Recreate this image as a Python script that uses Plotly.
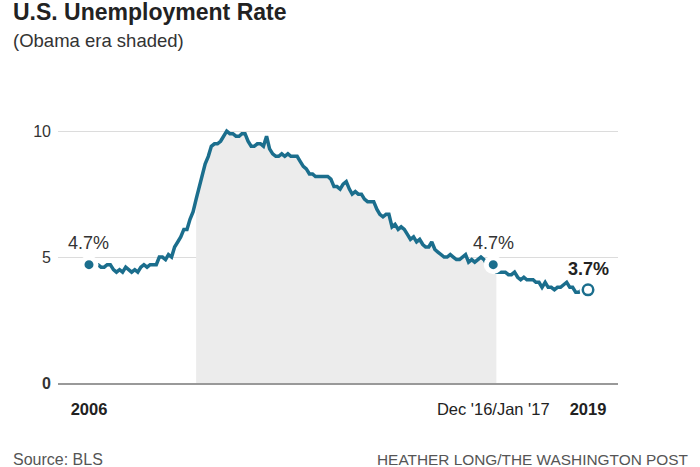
import plotly.graph_objects as go
import pandas as pd

# Monthly U.S. unemployment rate (%), Jan 2006 - Aug 2019 (BLS)
start_month = "2006-01"
rate = [
    4.7, 4.8, 4.7, 4.7, 4.6, 4.6, 4.7, 4.7, 4.5, 4.4, 4.5, 4.4,   # 2006
    4.6, 4.5, 4.4, 4.5, 4.4, 4.6, 4.7, 4.6, 4.7, 4.7, 4.7, 5.0,   # 2007
    5.0, 4.9, 5.1, 5.0, 5.4, 5.6, 5.8, 6.1, 6.1, 6.5, 6.8, 7.3,   # 2008
    7.8, 8.3, 8.7, 9.0, 9.4, 9.5, 9.5, 9.6, 9.8, 10.0, 9.9, 9.9,  # 2009
    9.8, 9.8, 9.9, 9.9, 9.6, 9.4, 9.4, 9.5, 9.5, 9.4, 9.8, 9.3,   # 2010
    9.1, 9.0, 9.0, 9.1, 9.0, 9.1, 9.0, 9.0, 9.0, 8.8, 8.6, 8.5,   # 2011
    8.3, 8.3, 8.2, 8.2, 8.2, 8.2, 8.2, 8.1, 7.8, 7.8, 7.7, 7.9,   # 2012
    8.0, 7.7, 7.5, 7.6, 7.5, 7.5, 7.3, 7.2, 7.2, 7.2, 6.9, 6.7,   # 2013
    6.6, 6.7, 6.7, 6.2, 6.3, 6.1, 6.2, 6.1, 5.9, 5.7, 5.8, 5.6,   # 2014
    5.7, 5.5, 5.4, 5.4, 5.6, 5.3, 5.2, 5.1, 5.0, 5.0, 5.1, 5.0,   # 2015
    4.9, 4.9, 5.0, 5.1, 4.8, 4.9, 4.8, 4.9, 5.0, 4.9, 4.7, 4.7,   # 2016
    4.7, 4.4, 4.4, 4.4, 4.4, 4.3, 4.3, 4.4, 4.2, 4.1, 4.2, 4.1,   # 2017
    4.1, 4.1, 4.0, 4.0, 3.8, 4.0, 3.8, 3.8, 3.7, 3.8, 3.8, 3.9,   # 2018
    4.0, 3.8, 3.8, 3.6, 3.6, 3.7, 3.7, 3.7,                       # 2019
]
dates = pd.date_range(start_month, periods=len(rate), freq="MS")

# Obama era shading window (monthly points)
shade_start = "2008-12-01"
shade_end = "2017-02-01"

# Highlighted points
hl_dates = ["2006-01-01", "2017-01-01"]
hl_labels = ["4.7%", "4.7%"]
last_date = "2019-08-01"
last_label = "<b>3.7%</b>"

# Tick labels
xtick_vals = ["2006-01-01", "2017-01-01", "2019-08-01"]
xtick_text = ["<b>2006</b>", "Dec '16/Jan '17", "<b>2019</b>"]
ytick_vals = [0, 5, 10]
ytick_text = ["<b>0</b>", "5", "10"]

title = "U.S. Unemployment Rate"
subtitle = "(Obama era shaded)"
source = "Source: BLS"
credit = "HEATHER LONG/THE WASHINGTON POST"

LINE = "#1b6e8d"
FONT = "Liberation Sans, Arial, sans-serif"

s = pd.Series(rate, index=dates)
shade = s[shade_start:shade_end]

fig = go.Figure()
fig.add_trace(go.Scatter(x=shade.index, y=shade.values, mode="lines",
                         line=dict(width=0, color="#ececec"),
                         fill="tozeroy", fillcolor="#ececec",
                         hoverinfo="skip"))
fig.add_trace(go.Scatter(x=dates, y=rate, mode="lines",
                         line=dict(color=LINE, width=3.5, shape="linear"),
                         hoverinfo="skip"))
hl = s[hl_dates]
fig.add_trace(go.Scatter(x=hl.index, y=hl.values, mode="markers",
                         marker=dict(size=14, color=LINE,
                                     line=dict(color="white", width=5))))
last = s[[last_date]]
fig.add_trace(go.Scatter(x=last.index, y=last.values, mode="markers",
                         marker=dict(size=17, color="white")))
fig.add_trace(go.Scatter(x=last.index, y=last.values, mode="markers",
                         marker=dict(size=10.5, color="white",
                                     line=dict(color=LINE, width=2.5))))

annos = []
for d, lab in zip(hl.index, hl_labels):
    annos.append(dict(x=d, y=s[d], text=lab, showarrow=False,
                      yshift=22, font=dict(size=18, color="#333")))
annos.append(dict(x=last.index[0], y=last.values[0], text=last_label,
                  showarrow=False, yshift=21,
                  font=dict(size=18, color="#222")))

ML, MR, MT, MB = 58, 82, 106, 84
PW = 700 - ML - MR
PH = 467 - MT - MB

def px(xpix):
    return (xpix - ML) / PW

def py(ypix):
    return (467 - MB - ypix) / PH

annos += [
    dict(xref="paper", yref="paper", x=px(11), y=py(-3), xanchor="left",
         yanchor="top", text=f"<b>{title}</b>", showarrow=False,
         font=dict(size=23, color="#222")),
    dict(xref="paper", yref="paper", x=px(11), y=py(28), xanchor="left",
         yanchor="top", text=subtitle, showarrow=False,
         font=dict(size=18.5, color="#333")),
    dict(xref="paper", yref="paper", x=px(11), y=py(449), xanchor="left",
         yanchor="top", text=source, showarrow=False,
         font=dict(size=16, color="#555")),
    dict(xref="paper", yref="paper", x=px(691), y=py(449),
         xanchor="right", yanchor="top", text=credit, showarrow=False,
         font=dict(size=15.4, color="#555")),
]

fig.update_layout(
    width=700, height=467, margin=dict(l=ML, r=MR, t=MT, b=MB),
    paper_bgcolor="white", plot_bgcolor="white", showlegend=False,
    font=dict(family=FONT, color="#333"),
    annotations=annos,
    xaxis=dict(range=["2005-02-27", "2020-05-25"], tickvals=xtick_vals,
               ticktext=xtick_text, showgrid=False, zeroline=False,
               showline=True, linecolor="#999", linewidth=1.5,
               layer="above traces", ticks="", ticklabelstandoff=10,
               tickfont=dict(size=16.5, color="#222")),
    yaxis=dict(range=[0, 11], tickvals=ytick_vals, ticktext=ytick_text,
               showgrid=True, gridcolor="#dcdcdc", gridwidth=1,
               zeroline=False, ticks="", ticklabelstandoff=6,
               tickfont=dict(size=16, color="#333")),
)

fig.write_html("out.html")
